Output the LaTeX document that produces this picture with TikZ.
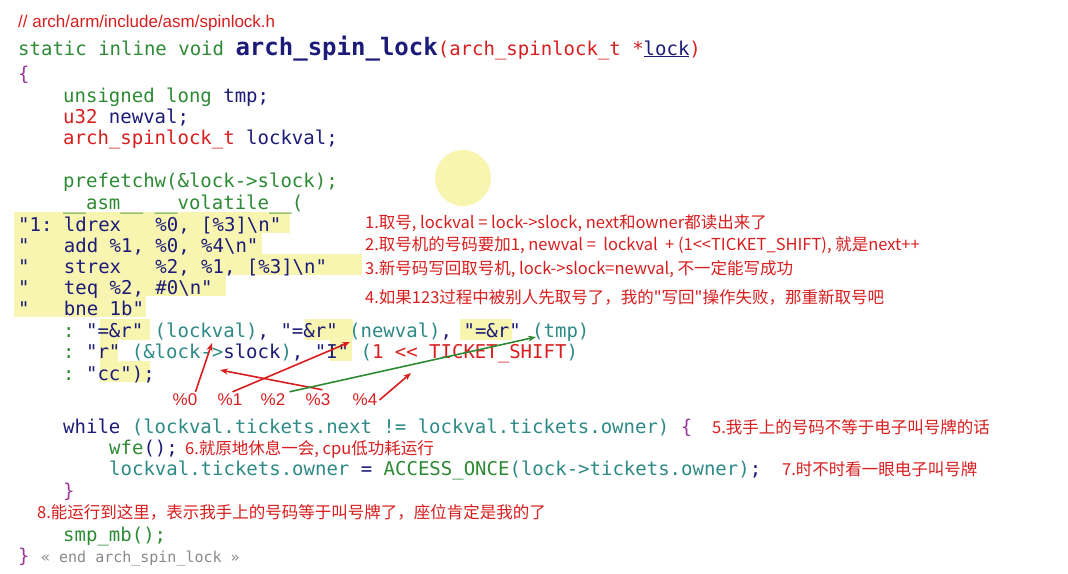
\documentclass[tikz,border=0pt]{standalone}
\usepackage{fontspec}
\usetikzlibrary{arrows.meta}
\setmonofont{DejaVu Sans Mono}
\setsansfont{Liberation Sans}
\newfontfamily\cjk{Noto Sans CJK SC}
\definecolor{kgreen}{HTML}{2F8A35}
\definecolor{knavy}{HTML}{1C1C78}
\definecolor{kred}{HTML}{D81E1E}
\definecolor{kteal}{HTML}{2E8A86}
\definecolor{hyel}{HTML}{F7F5B0}
\definecolor{kgrey}{HTML}{8A8A8A}
\definecolor{kpurp}{HTML}{9A3A9A}
\newcommand\G[1]{\textcolor{kgreen}{#1}}
\newcommand\N[1]{\textcolor{knavy}{#1}}
\newcommand\R[1]{\textcolor{kred}{#1}}
\newcommand\T[1]{\textcolor{kteal}{#1}}
\newcommand\bsl{\textbackslash}
\begin{document}
\begin{tikzpicture}[x=1pt,y=-1pt,
  code/.style={anchor=base west,inner sep=0pt,font=\ttfamily\fontsize{19}{21}\selectfont,text=knavy},
  note/.style={anchor=base west,inner sep=0pt,font=\cjk\fontsize{16.5}{18}\selectfont,text=kred},
  arr/.style={-{Stealth[length=8pt,width=6pt]},line width=1.6pt,draw=kred}]
\useasboundingbox (0,0) rectangle (1068,573);
\fill[white] (0,0) rectangle (1068,573);
% highlights
\fill[hyel] (463,178) circle (28);
\fill[hyel] (14,212) rectangle (290,233);
\fill[hyel] (14,233) rectangle (262,254);
\fill[hyel] (14,254) rectangle (362,275);
\fill[hyel] (14,275) rectangle (226,296);
\fill[hyel] (14,296) rectangle (146,317);
\fill[hyel] (100,319) rectangle (150,340);
\fill[hyel] (100,340) rectangle (118,361);
\fill[hyel] (100,361) rectangle (150,382);
\fill[hyel] (305,319) rectangle (353,340);
\fill[hyel] (460,319) rectangle (512,340);
\fill[hyel] (330,340) rectangle (352,361);
% code
\node[code,font=\sffamily\fontsize{17}{20}\selectfont,text=kred] (c0) at (18,27) {// arch/arm/include/asm/spinlock.h};
\node[code] (c1) at (18,55) {\G{static inline void} \textbf{\fontsize{24}{24}\selectfont arch\_spin\_lock}\R{(arch\_spinlock\_t *}\underline{lock}\R{)}};
\node[code,text=kpurp] (c2) at (18,80) {\{};
\node[code] (c3) at (63,102) {\G{unsigned long} tmp;};
\node[code] (c4) at (63,123) {\R{u32} newval;};
\node[code] (c5) at (63,144) {\R{arch\_spinlock\_t} lockval;};
\node[code,text=kgreen] (c7) at (63,187) {prefetchw(\&lock->slock);};
\node[code,text=kgreen] (c8) at (63,209) {\_\_asm\_\_ \_\_volatile\_\_(};
\node[code] (c9) at (18,231) {"1: ldrex\ \ \ \%0, [\%3]\bsl n"};
\node[code] (c10) at (18,252) {"\ \ \ add \%1, \%0, \%4\bsl n"};
\node[code] (c11) at (18,273) {"\ \ \ strex\ \ \ \%2, \%1, [\%3]\bsl n"};
\node[code] (c12) at (18,294) {"\ \ \ teq \%2, \#0\bsl n"};
\node[code] (c13) at (18,315) {"\ \ \ bne 1b"};
\node[code] (c14) at (63,337) {\G{:} "=\&r" \T{(lockval)}, "=\&r" \T{(newval)}, "=\&r" \T{(tmp)}};
\node[code] (c15) at (63,358) {\G{:} "r" \T{(\&lock->}slock\T{)}, "I" \T{(}\R{1 << TICKET\_SHIFT}\T{)}};
\node[code] (c16) at (63,380) {\G{:} "cc");};
\node[code] (c17) at (63,433) {while \T{(lockval.tickets.next != lockval.tickets.owner)} \textcolor{kpurp}{\{}};
\node[code] (c18) at (109,454) {\G{wfe}();};
\node[code] (c19) at (109,475) {\T{lockval.tickets.owner} = \G{ACCESS\_ONCE}\T{(lock->tickets.owner)};};
\node[code,text=kpurp] (c20) at (63,497) {\}};
\node[code,text=kgreen] (c22) at (63,541) {smp\_mb();};
\node[code,text=kgrey] (c23) at (18,562) {\textcolor{kpurp}{\}} {\fontsize{15}{15}\selectfont « end arch\_spin\_lock »}};
% notes
\node[note] (n1) at (365,228) {1.取号, lockval = lock->slock, next和owner都读出来了};
\node[note] (n2) at (365,250) {2.取号机的号码要加1, newval =\ \ lockval\ \ + (1<<TICKET\_SHIFT), 就是next++};
\node[note] (n3) at (365,274) {3.新号码写回取号机, lock->slock=newval, 不一定能写成功};
\node[note] (n4) at (365,303) {4.如果123过程中被别人先取号了，我的"写回"操作失败，那重新取号吧};
\node[note] (n5) at (712,433) {5.我手上的号码不等于电子叫号牌的话};
\node[note] (n6) at (185,454) {6.就原地休息一会, cpu低功耗运行};
\node[note] (n7) at (782,475) {7.时不时看一眼电子叫号牌};
\node[note] (n8) at (37,518) {8.能运行到这里，表示我手上的号码等于叫号牌了，座位肯定是我的了};
% operand labels
\foreach \n/\x in {0/185,1/230,2/273,3/318,4/365}
  \node[note,anchor=center,font=\sffamily\fontsize{17}{17}\selectfont] (p\n) at (\x,400) {\%\n};
\coordinate (a0) at (212,343);
\coordinate (a1) at (350,342);
\coordinate (a3) at (220,370);
\coordinate (a2) at (536,337);
\coordinate (a4) at (411,373);
\draw[arr] (p0.north east) ++(-2,-2) coordinate (s0) (s0) -- (a0);
\draw[arr] (p1.north east) ++(-10,-2) coordinate (s1) (s1) -- (a1);
\draw[arr] (p3.north east) ++(-8,-4) coordinate (s3) (s3) -- (a3);
\draw[arr,draw=kgreen] (p2.north east) ++(4,-2) coordinate (s2) (s2) -- (a2);
\draw[arr] (p4.east) ++(2,0) coordinate (s4) (s4) -- (a4);
\end{tikzpicture}
\end{document}
